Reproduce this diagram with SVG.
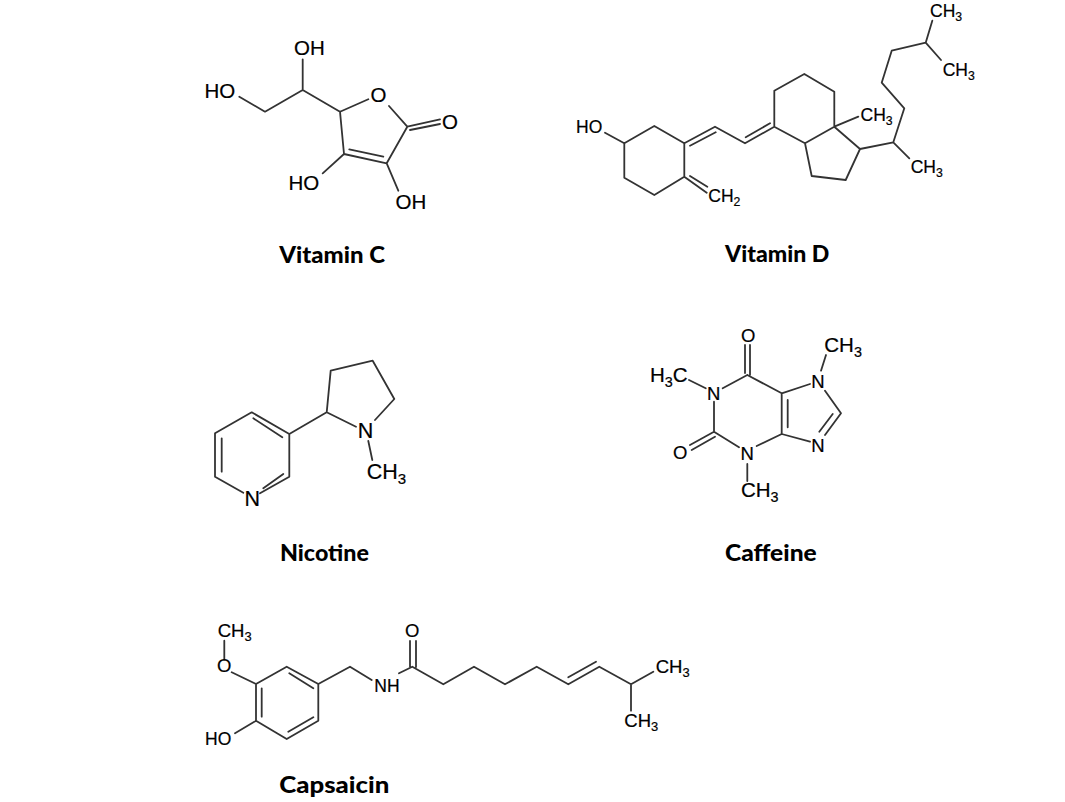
<svg xmlns="http://www.w3.org/2000/svg" width="1065" height="802" viewBox="0 0 1065 802">
<style>
.b{fill:none;stroke:#333;stroke-width:1.8;stroke-linejoin:round;stroke-linecap:round}
text{font-family:"Liberation Sans",Arial,sans-serif;fill:#000;stroke:#000;stroke-width:.2}
.l{font-size:20.5px}.m{font-size:18.5px}.s{font-size:17.5px}.x{font-size:21.5px}
.t{font-family:"Lato","Open Sans",sans-serif;font-weight:900;font-size:23px;stroke:none}
.u{font-size:.7em}
</style>
<rect width="1065" height="802" fill="#fff"/>
<g id="vitamin-c">
<path class="b" d="M302.7 59.3V90L265 111.7 239.3 96.7M302.7 90 340 111.7 368.3 99.3M389 106 407.3 126.7 386.7 163.3 344 154 340 111.7M349.3 149.3 383.3 156.7M407.3 126.7 440 119.3M410 130 440 124M344 154 322.7 173.3M386.7 163.3 398.3 190.7"/>
<text class="l" x="294" y="55">OH</text>
<text class="l" x="204.5" y="98">HO</text>
<text class="l" x="370.5" y="101.7">O</text>
<text class="l" x="442" y="128.7">O</text>
<text class="l" x="288.5" y="190">HO</text>
<text class="l" x="395.5" y="209">OH</text>
<text class="t" x="279.3" y="262.7" textLength="105.7" lengthAdjust="spacingAndGlyphs">Vitamin C</text>
</g>
<g id="vitamin-d">
<path class="b" d="M605 132.7 624.3 143.3 654.3 126 684.3 143.3V176.7L654.3 195 624.3 177.7V143.3M684.3 176.7 706.7 192.7M690 176 707.3 186.7M684.3 143.3 715 126.7 745 143.3 774.3 126.7M690 145.7 715.7 132.3M745.7 137.3 770 123.3M774.3 126.7V90.7L804.3 74 834.3 91.7V126.7L805 143.3 774.3 126.7M834.3 126.7 858.3 116.7M805 143.3 811.7 176 845.7 180 860 149 834.3 126.7M860 149 893.3 142.3 909.3 158.3M893.3 142.3 904.3 108.3 881.7 82.7 891.7 50.7 925.7 42.7 932.3 20.7M925.7 42.7 941 60"/>
<text class="s" x="576" y="132.7">HO</text>
<text class="s" x="860.5" y="120.7">CH<tspan class="u" dy="4">3</tspan></text>
<text class="s" x="708.3" y="201.7">CH<tspan class="u" dy="4">2</tspan></text>
<text class="s" x="910.7" y="173.3">CH<tspan class="u" dy="4">3</tspan></text>
<text class="s" x="930" y="17.3">CH<tspan class="u" dy="4">3</tspan></text>
<text class="s" x="942.7" y="75.7">CH<tspan class="u" dy="4">3</tspan></text>
<text class="t" x="725" y="261.7" textLength="104.3" lengthAdjust="spacingAndGlyphs">Vitamin D</text>
</g>
<g id="nicotine">
<path class="b" d="M243.3 492.7 215 476.7V433.3L251.7 412.3 289.3 434V476.7L260 493.3M253.3 418.3 282.3 437.3M221.7 438.3V471.7M263.3 488.3 283.3 474M289.3 434 326.7 412.3 330.7 370.7 372.7 360.7 394.3 399 375 420M326.7 412.3 356 426.7M368.3 441 372.3 460"/>
<text class="x" x="357.7" y="437.7">N</text>
<text class="x" x="366.7" y="479.3">CH<tspan class="u" dy="5">3</tspan></text>
<text class="x" x="244.5" y="505.7">N</text>
<text class="t" x="280" y="560.7" textLength="89" lengthAdjust="spacingAndGlyphs">Nicotine</text>
</g>
<g id="caffeine">
<path class="b" d="M745 345V373M750 345V375M747.3 375 722.7 388.3M689 380 705.7 388.3M714 401.7V431.7L690 445M691.7 450 715 436.7M714 431.7 739 447.3M756.7 446 781.7 434V393.3L747.3 375M787.7 400V427.3M781.7 393.3 810 384M781.7 434 810 441.7M825 390.7 841 413.3 825 435M832.7 414 819.3 431.7M826 355 821 370.7M747.3 464V481"/>
<text class="m" x="741" y="342.3">O</text>
<text class="m" x="673" y="459.3">O</text>
<text class="m" x="707" y="400">N</text>
<text class="m" x="740.5" y="460">N</text>
<text class="m" x="811.2" y="388.3">N</text>
<text class="m" x="811.2" y="452.3">N</text>
<text class="l" x="824.3" y="352.3">CH<tspan class="u" dy="5">3</tspan></text>
<text class="l" x="650" y="381.7">H<tspan class="u" dy="5">3</tspan><tspan dy="-5">C</tspan></text>
<text class="l" x="741" y="496.7">CH<tspan class="u" dy="5">3</tspan></text>
<text class="t" x="725" y="560.7" textLength="91.7" lengthAdjust="spacingAndGlyphs">Caffeine</text>
</g>
<g id="capsaicin">
<path class="b" d="M224.3 640.7V659.3M231.7 672.3 256 684 286.7 666.7 318.3 684V720.7L286.7 739 256 720.7V684M261.7 688.3V716.7M289.3 673.3 313.3 688.3M288.3 731.7 313.3 717.3M318.3 684 350 666.7 371.7 680M399 673.3 412.3 666.7 443.3 684.3 474 666.7 505 684.3 536.7 666.7 568.3 684.3 599.3 666.7 631 684.3 653.3 671.7M631 684.3V710.7M568.3 677.3 596 661.7M410 641V666.7M416 641V667M256 720.7 235 733.3"/>
<text class="m" x="217.7" y="636.7">CH<tspan class="u" dy="4">3</tspan></text>
<text class="m" x="217" y="672.3">O</text>
<text class="s" x="374.3" y="691.7">NH</text>
<text class="m" x="405" y="636.7">O</text>
<text class="m" x="655.7" y="672.7">CH<tspan class="u" dy="4">3</tspan></text>
<text class="m" x="624.3" y="727.3">CH<tspan class="u" dy="4">3</tspan></text>
<text class="s" x="205" y="745">HO</text>
<text class="t" x="279.3" y="792.7" textLength="110" lengthAdjust="spacingAndGlyphs">Capsaicin</text>
</g>
</svg>
